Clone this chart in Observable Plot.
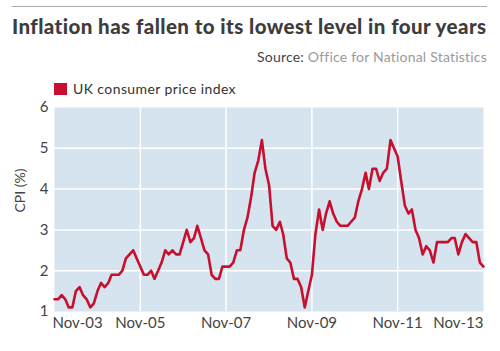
<!DOCTYPE html>
<html><head><meta charset="utf-8">
<script src="https://cdn.jsdelivr.net/npm/d3@7"></script>
<script src="https://cdn.jsdelivr.net/npm/@observablehq/plot@0.6"></script>
<style>
html,body{margin:0;padding:0;background:#fff;font-family:Lato,"Open Sans",sans-serif}
#wrap{position:relative;width:500px;height:351px;overflow:hidden;background:#fff}
#head{position:absolute;left:12px;top:6px;width:475px;border-top:1px solid #aaaaaa;padding-top:6px}
#title{font-weight:900;font-size:20.5px;line-height:26px;color:#3d3d3d;white-space:nowrap;display:inline-block}
#source{position:absolute;right:13px;top:48px;font-size:14px;line-height:18px;color:#9a9a9a;white-space:nowrap}
#source b{font-weight:400;color:#444}
#legend{position:absolute;left:54px;top:80px;font-size:14px;line-height:18px;color:#333;display:flex;align-items:center;white-space:nowrap}
#legend .sw{display:inline-block;width:13px;height:12px;background:#c8102e;margin-right:6px}
#chart{position:absolute;left:0;top:94px}
</style></head>
<body><div id="wrap">
<div id="head"><span id="title">Inflation has fallen to its lowest level in four years</span></div>
<div id="source"><b>Source:</b> Office for National Statistics</div>
<div id="legend"><span class="sw"></span><span id="legtext">UK consumer price index</span></div>
<div id="chart"></div>
</div>
<script>
// Monthly UK CPI, Nov 2003 – Nov 2013
const seriesName = "UK consumer price index";
const startYear = 2003, startMonth = 10; // November 2003 (0-based month)
const cpi = [
  1.3, 1.3,
  1.4, 1.3, 1.1, 1.1, 1.5, 1.6, 1.4, 1.3, 1.1, 1.2, 1.5, 1.7,
  1.6, 1.7, 1.9, 1.9, 1.9, 2.0, 2.3, 2.4, 2.5, 2.3, 2.1, 1.9,
  1.9, 2.0, 1.8, 2.0, 2.2, 2.5, 2.4, 2.5, 2.4, 2.4, 2.7, 3.0,
  2.7, 2.8, 3.1, 2.8, 2.5, 2.4, 1.9, 1.8, 1.8, 2.1, 2.1, 2.1,
  2.2, 2.5, 2.5, 3.0, 3.3, 3.8, 4.4, 4.7, 5.2, 4.5, 4.1, 3.1,
  3.0, 3.2, 2.9, 2.3, 2.2, 1.8, 1.8, 1.6, 1.1, 1.5, 1.9, 2.9,
  3.5, 3.0, 3.4, 3.7, 3.4, 3.2, 3.1, 3.1, 3.1, 3.2, 3.3, 3.7,
  4.0, 4.4, 4.0, 4.5, 4.5, 4.2, 4.4, 4.5, 5.2, 5.0, 4.8, 4.2,
  3.6, 3.4, 3.5, 3.0, 2.8, 2.4, 2.6, 2.5, 2.2, 2.7, 2.7, 2.7,
  2.7, 2.8, 2.8, 2.4, 2.7, 2.9, 2.8, 2.7, 2.7, 2.2, 2.1
];
const xTickDates = ["2003-11-01", "2005-11-01", "2007-11-01", "2009-11-01", "2011-11-01", "2013-11-01"];
const xTickLabels = ["Nov-03", "Nov-05", "Nov-07", "Nov-09", "Nov-11", "Nov-13"];
const yTicks = [1, 2, 3, 4, 5, 6];
const yLabel = "CPI (%)";

// spread header texts to the widths they occupy in the reference
function spread(el, target) {
  const w = el.getBoundingClientRect().width;
  const n = el.textContent.length;
  el.style.letterSpacing = ((target - w) / n).toFixed(3) + "px";
}
spread(document.getElementById("title"), 475);
spread(document.getElementById("source"), 230);
spread(document.getElementById("legtext"), 163);

const data = cpi.map((v, i) => ({date: new Date(Date.UTC(startYear, startMonth + i, 1)), cpi: v}));
const ticks = xTickDates.map((d, i) => ({date: new Date(d + "T00:00:00Z"), label: xTickLabels[i]}));
const first = ticks[0], last = ticks[ticks.length - 1], inner = ticks.slice(1, -1);

const chart = Plot.plot({
  width: 500, height: 257,
  marginTop: 13, marginBottom: 40, marginLeft: 54, marginRight: 17,
  x: {type: "utc", domain: [data[0].date, data[data.length - 1].date], axis: null},
  y: {domain: [1, 6], axis: null},
  style: {fontFamily: "Lato, 'Open Sans', sans-serif", fontSize: "15px", color: "#444", background: "transparent"},
  marks: [
    Plot.frame({fill: "#d5e4ee", stroke: null}),
    Plot.ruleY(yTicks.slice(1, -1), {stroke: "#ffffff", strokeWidth: 1.5}),
    Plot.ruleX(inner, {x: "date", stroke: "#ffffff", strokeWidth: 1.5}),
    Plot.line(data, {x: "date", y: "cpi", stroke: "#c8102e", strokeWidth: 2.6, strokeLinejoin: "round"}),
    Plot.axisY(yTicks, {tickSize: 0, tickPadding: 6, label: null, fontSize: 15, fill: "#444"}),
    Plot.text([yLabel], {frameAnchor: "left", rotate: -90, dx: -34, dy: 3, fontSize: 14, fill: "#444"}),
    Plot.text(inner, {x: "date", text: "label", frameAnchor: "bottom", dy: 16, fontSize: 15, fill: "#444"}),
    Plot.text([first], {x: "date", text: "label", frameAnchor: "bottom", textAnchor: "start", dx: -2, dy: 16, fontSize: 15, fill: "#444"}),
    Plot.text([last], {x: "date", text: "label", frameAnchor: "bottom", textAnchor: "end", dy: 16, fontSize: 15, fill: "#444"})
  ]
});
document.getElementById("chart").appendChild(chart);
</script>
</body></html>
